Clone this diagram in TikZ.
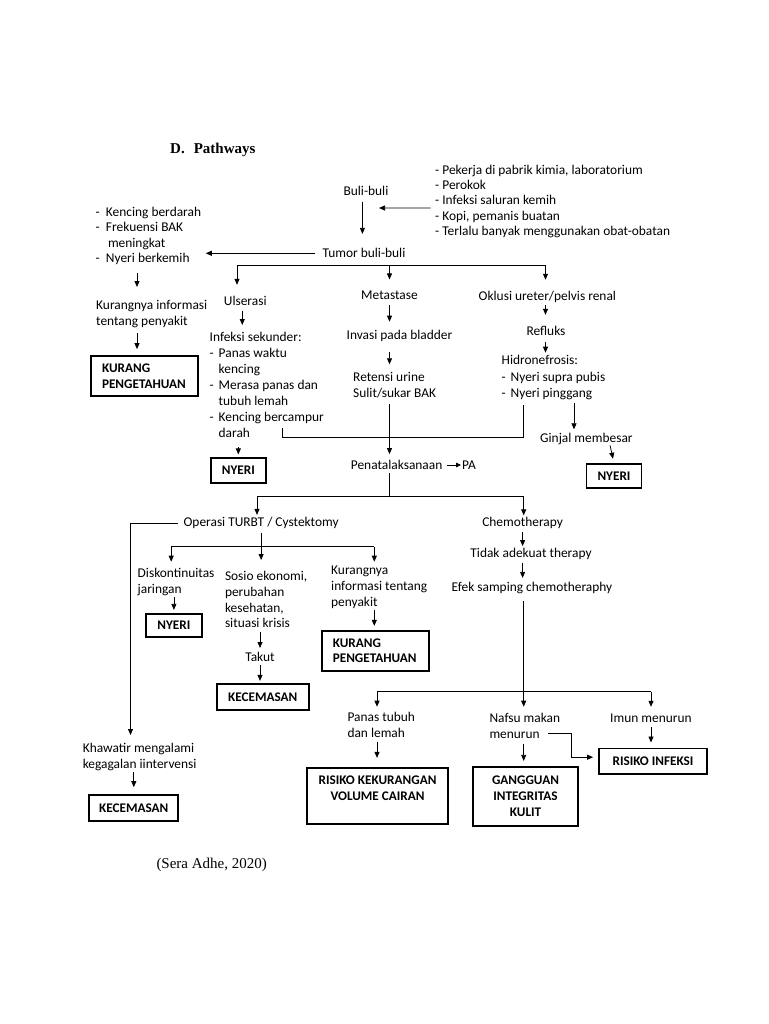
\documentclass[tikz,border=0pt]{standalone}
\usepackage{fontspec}
\setmainfont{Carlito}
\newfontfamily\timesfont{Liberation Serif}
\usetikzlibrary{positioning,arrows.meta}
\newcommand{\li}[1][9pt]{\makebox[#1][l]{-}}
\newcommand{\ind}[1][9pt]{\hspace*{#1}}

\begin{document}
\begin{tikzpicture}[x=1pt,y=-1pt,
    txt/.style={inner sep=0pt,align=left,font=\fontsize{13.4}{15.8}\selectfont},
    kotak/.style={draw,line width=1.7pt,inner sep=0pt,align=center,font=\fontsize{13.2}{15.8}\selectfont\bfseries},
    arr/.style={-{Triangle[length=6pt,width=5pt]},line width=0.75pt},
    garis/.style={line width=0.75pt}]
  \fill[white] (0,0) rectangle (768,1024);
  \useasboundingbox (0,0) rectangle (768,1024);

  % judul
  \node[inner sep=0pt,anchor=west,font=\timesfont\fontsize{15}{18}\selectfont\bfseries] (judul) at (170,149.5) {D.\hspace{9pt}Pathways};

  % etiologi
  \node[txt] (buli) at (366,191) {Buli-buli};
  \node[txt,anchor=north west,font=\fontsize{13.4}{15.3}\selectfont] (faktor) at (435,164.7) {- Pekerja di pabrik kimia, laboratorium\\- Perokok\\- Infeksi saluran kemih\\- Kopi, pemanis buatan\\- Terlalu banyak menggunakan obat-obatan};
  \node[txt] (tumor) at (364,253.3) {Tumor buli-buli};
  \node[txt,anchor=north west,font=\fontsize{13.4}{15.5}\selectfont] (gejala) at (95.3,206.7) {\li[10.5pt]Kencing berdarah\\\li[10.5pt]Frekuensi BAK\\\ind[12.5pt]meningkat\\\li[10.5pt]Nyeri berkemih};
  \coordinate (fkend) at (379,208);
  \draw[arr,shorten <=4.5pt] ([yshift=-6.8pt]faktor.west) -- (fkend);
  \draw[arr,shorten <=6pt,shorten >=14.5pt] ([xshift=-3.6pt]buli.south) -- ([xshift=-3.6pt]buli.south |- tumor.north);
  \draw[arr,shorten <=7pt,shorten >=4.5pt] (tumor.west) -- (tumor.west -| gejala.east);

  % cabang tumor
  \coordinate (c1) at (237,265);
  \coordinate (c3) at (545.5,265);
  \node[txt,anchor=west] (ulserasi) at (223.7,300.7) {Ulserasi};
  \node[txt] (metastase) at (389.5,295) {Metastase};
  \node[txt,anchor=west] (oklusi) at (478.5,296.7) {Oklusi ureter/pelvis renal};
  \draw[garis] (c1) -- (c3);
  \draw[arr,shorten >=11pt] (c1) -- (c1 |- ulserasi.north);
  \draw[arr,shorten >=11pt] (metastase.north |- c1) -- (metastase.north);
  \draw[arr,shorten >=11pt] (c3) -- (c3 |- oklusi.north);

  % kurang informasi
  \coordinate (kx) at (137,0);
  \node[txt,anchor=north west] (info1) at (96,300) {Kurangnya informasi\\tentang penyakit};
  \node[kotak,text width=85pt,align=left,inner xsep=11pt,minimum height=40pt] (kp1) at (144.5,376) {KURANG\\PENGETAHUAN};
  \draw[arr,shorten <=7.5pt,shorten >=13pt] (gejala.south -| kx) -- (info1.north -| kx);
  \draw[arr,shorten <=5.4pt,shorten >=6pt] (info1.south -| kx) -- (kp1.north -| kx);

  % ulserasi
  \node[txt,anchor=north west,font=\fontsize{13.4}{16.1}\selectfont] (infeksi) at (209.5,331.7) {Infeksi sekunder:\\\li Panas waktu\\\ind kencing\\\li Merasa panas dan\\\ind tubuh lemah\\\li Kencing bercampur\\\ind darah};
  \node[kotak,minimum width=55.3pt,minimum height=24.4pt] (ny1) at (238.3,470.5) {NYERI};
  \draw[arr,shorten <=5.4pt,shorten >=6.7pt] ([xshift=-3pt]ulserasi.south) -- ([xshift=-3pt]ulserasi.south |- infeksi.north);
  \draw[arr,shorten <=9pt,shorten >=3pt] (infeksi.south -| ny1) -- (ny1.north);

  % metastase
  \node[txt] (invasi) at (399.5,336) {Invasi pada bladder};
  \node[txt,anchor=north west,font=\fontsize{13.4}{16}\selectfont] (retensi) at (353,372.3) {Retensi urine\\Sulit/sukar BAK};
  \draw[arr,shorten <=5.5pt,shorten >=8.4pt] (metastase.south) -- (metastase.south |- invasi.north);
  \draw[arr,shorten <=9.8pt,shorten >=8pt] (invasi.south -| metastase) -- (retensi.north -| metastase);

  % oklusi
  \node[txt] (refluks) at (546,330.7) {Refluks};
  \node[txt,anchor=north west,font=\fontsize{13.4}{16.6}\selectfont] (hidro) at (501.5,355) {Hidronefrosis:\\\li Nyeri supra pubis\\\li Nyeri pinggang};
  \node[txt,anchor=west] (ginjal) at (540,439.3) {Ginjal membesar};
  \node[kotak,minimum width=55pt,minimum height=24pt] (ny2) at (614,476) {NYERI};
  \coordinate (gx) at (574,0);
  \draw[arr,shorten <=2.4pt,shorten >=11pt] (oklusi.south -| c3) -- (refluks.north -| c3);
  \draw[arr,shorten <=6.5pt,shorten >=2.3pt] (refluks.south -| c3) -- (hidro.north -| c3);
  \draw[arr,shorten <=3pt,shorten >=4pt] (hidro.south -| gx) -- (ginjal.north -| gx);
  \draw[arr,shorten >=4.5pt] ([xshift=-4pt]ny2.north |- ginjal.south) -- (ny2.north);

  % penatalaksanaan
  \node[txt,anchor=west] (pena) at (350.7,465) {Penatalaksanaan};
  \node[txt,anchor=base west] (pa) at ([xshift=19.5pt]pena.base east) {PA};
  \draw[-{Triangle[length=5pt,width=4.5pt]},line width=0.75pt,shorten <=4pt,shorten >=1pt] (pena.east) -- (pena.east -| pa.west);
  \coordinate (gL) at (282,428);
  \coordinate (gR) at (523.5,405);
  \draw[garis] (gL) -- ++(0,9.3) -| (gR);
  \draw[arr,shorten <=5.5pt,shorten >=6pt] (retensi.south -| metastase) -- (pena.north -| metastase);

  % cabang penatalaksanaan
  \node[txt,anchor=west] (operasi) at (183.4,523.3) {Operasi TURBT / Cystektomy};
  \node[txt] (kemo) at (522.6,523.3) {Chemotherapy};
  \coordinate (p1) at (257,496);
  \coordinate (p2) at (523.7,496);
  \draw[garis,shorten <=3.5pt] (pena.south -| metastase) -- (p1 -| metastase);
  \draw[garis] (p1) -- (p2);
  \draw[arr,shorten >=2.5pt] (p1) -- (p1 |- operasi.north);
  \draw[arr,shorten >=2pt] (p2) -- (p2 |- kemo.north);

  % kemoterapi
  \node[txt] (tidak) at (531,554) {Tidak adekuat therapy};
  \node[txt] (efek) at (532,588.3) {Efek samping chemotheraphy};
  \draw[arr,shorten <=2.5pt,shorten >=2pt] (kemo.south) -- (kemo.south |- tidak.north);
  \draw[arr,shorten <=3pt,shorten >=4.4pt] (tidak.south -| kemo) -- (efek.north -| kemo);

  % cabang operasi
  \coordinate (s1) at (171.2,546.7);
  \coordinate (s2) at (374.3,546.7);
  \node[txt,anchor=north west] (diskon) at (137.5,568.3) {Diskontinuitas\\jaringan};
  \node[txt,anchor=north west] (sosio) at (224.8,571) {Sosio ekonomi,\\perubahan\\kesehatan,\\situasi krisis};
  \node[txt,anchor=north west] (info2) at (331,565.7) {Kurangnya\\informasi tentang\\penyakit};
  \draw[garis] (s1) -- (s2);
  \draw[arr,shorten <=3.8pt,shorten >=11pt] (operasi.south) -- (operasi.south |- sosio.north);
  \draw[arr,shorten >=6.6pt] (s1) -- (s1 |- diskon.north);
  \draw[arr,shorten >=4pt] (s2) -- (s2 |- info2.north);

  \node[kotak,minimum width=55.8pt,minimum height=22.7pt] (ny3) at (173.9,625.4) {NYERI};
  \node[txt] (takut) at (260,656.7) {Takut};
  \node[kotak,minimum width=91.7pt,minimum height=26pt] (kc1) at (262.8,697) {KECEMASAN};
  \node[kotak,text width=85pt,align=left,inner xsep=11pt,minimum height=40pt] (kp2) at (375.3,650.7) {KURANG\\PENGETAHUAN};
  \draw[arr,shorten <=1pt,shorten >=3.3pt] (diskon.south -| ny3) -- (ny3.north);
  \draw[arr,shorten <=4pt,shorten >=3.8pt] (sosio.south -| takut) -- (takut.north);
  \draw[arr,shorten <=3.8pt,shorten >=2.3pt] (takut.south) -- (takut.south |- kc1.north);
  \draw[arr,shorten <=1.6pt,shorten >=4pt] (info2.south -| s2) -- (kp2.north -| s2);

  % khawatir
  \coordinate (kx2) at (130.5,0);
  \node[txt,anchor=north west] (khawatir) at (82.6,743.3) {Khawatir mengalami\\kegagalan iintervensi};
  \node[kotak,minimum width=89pt,minimum height=25.7pt] (kc2) at (133.8,807.9) {KECEMASAN};
  \draw[arr,shorten <=5.7pt,shorten >=8.3pt] (operasi.west) -| (khawatir.north -| kx2);
  \draw[arr,shorten <=1pt,shorten >=7pt] (khawatir.south -| kc2) -- (kc2.north);

  % efek samping
  \coordinate (e1) at (377,691.7);
  \coordinate (e2) at (651,691.7);
  \node[txt,anchor=north west] (panas) at (347.3,711.7) {Panas tubuh\\dan lemah};
  \node[txt,anchor=north west] (nafsu) at (489.3,713.3) {Nafsu makan\\menurun};
  \node[txt,anchor=west] (imun) at (610,718.3) {Imun menurun};
  \draw[arr,shorten <=6.5pt,shorten >=6.6pt] (efek.south -| p2) -- (nafsu.north -| p2);
  \draw[garis] (e1) -- (e2);
  \draw[arr,shorten >=5pt] (e1) -- (e1 |- panas.north);
  \draw[arr,shorten >=7pt] (e2) -- (e2 |- imun.north);

  \node[kotak,minimum width=140.4pt,minimum height=56.6pt] (rk) at (377.5,796) {RISIKO KEKURANGAN\\VOLUME CAIRAN\\\mbox{}};
  \node[kotak,minimum width=105.6pt,minimum height=59.3pt] (gi) at (525.5,796.4) {GANGGUAN\\INTEGRITAS\\KULIT};
  \node[kotak,minimum width=108pt,minimum height=25.7pt] (ri) at (653,761.2) {RISIKO INFEKSI};
  \coordinate (nm) at (548.3,733.8);
  \draw[arr,shorten >=5pt] (nm) -- ++(23.4,0) |- ([yshift=4pt]ri.west);
  \draw[arr,shorten <=5pt,shorten >=9pt] (panas.south -| e1) -- (rk.north -| e1);
  \draw[arr,shorten <=4.8pt,shorten >=5pt] (nafsu.south -| p2) -- (gi.north -| p2);
  \draw[arr,shorten <=3.8pt,shorten >=5pt] (imun.south -| e2) -- (ri.north -| e2);

  % sumber
  \node[inner sep=0pt,anchor=west,font=\timesfont\fontsize{15}{18}\selectfont] (sumber) at (156.3,864.5) {(Sera Adhe, 2020)};
\end{tikzpicture}
\end{document}
